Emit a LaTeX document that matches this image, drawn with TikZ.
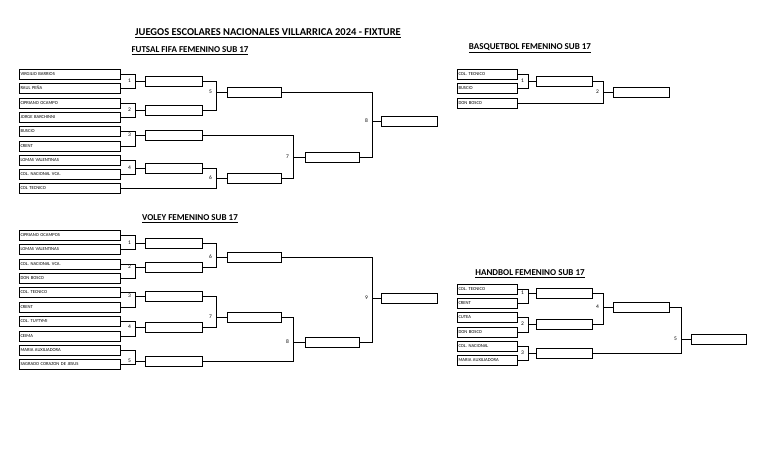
\documentclass[tikz,border=0pt]{standalone}
\usepackage{fontspec}
\setmainfont{Carlito}
\begin{document}
\begin{tikzpicture}[x=1pt,y=-1pt,
 team/.style={draw,line width=0.8pt,minimum height=10pt,text width=#1,align=left,inner xsep=1.5pt,inner ysep=0pt,font=\fontsize{4.6}{5}\selectfont},
 team/.default=98pt,
 rbox/.style={draw,line width=0.8pt,minimum height=10pt,minimum width=#1,inner sep=0pt},
 rbox/.default=57pt,
 num/.style={font=\fontsize{5.5}{6}\selectfont,inner sep=0pt,left=4pt},
 ttl/.style={font=\bfseries\fontsize{9}{10}\selectfont,inner sep=0pt},
 ln/.style={line width=0.8pt}]
\newcommand\jn[5]{\draw[ln] (#1.east) -| (#3 |- #2.east) -- (#2.east);
 \draw[ln] (#3 |- #4.west) -- (#4.west);
 \node[num] at (#3 |- #4.west) {#5};}
\useasboundingbox (0,0) rectangle (768,466);
\node[ttl,font=\bfseries\fontsize{10.5}{12}\selectfont] (t0) at (268,33) {\underline{JUEGOS ESCOLARES NACIONALES VILLARRICA 2024 - FIXTURE}};
% FUTSAL
\node[ttl] (t1) at (190,51) {\underline{FUTSAL FIFA FEMENINO SUB 17}};
\node[team] (fa) at (69.5,74) {VIRGILIO BARRIOS};
\node[team] (fb) at (69.5,88) {RAUL PEÑA};
\node[team] (fc) at (69.5,103) {CIPRIANO OCAMPO};
\node[team] (fd) at (69.5,117) {JORGE BARCHINNI};
\node[team] (fe) at (69.5,131) {BUSCIO};
\node[team] (ff) at (69.5,146) {CRENT};
\node[team] (fg) at (69.5,160) {LOMAS VALENTINAS};
\node[team] (fh) at (69.5,174) {COL. NACIONAL VCA.};
\node[team] (fi) at (69.5,188) {COL TECNICO};
\coordinate (x1) at (135,0); \coordinate (x2) at (216,0);
\coordinate (x3) at (293,0); \coordinate (x4) at (372,0);
\node[rbox] (f1) at (173.5,81) {};
\node[rbox] (f2) at (173.5,110) {};
\node[rbox] (f3) at (173.5,135) {};
\node[rbox] (f4) at (173.5,168) {};
\node[rbox=54pt] (f5) at (254,92) {};
\node[rbox=54pt] (f6) at (254,178) {};
\node[rbox=54pt] (f7) at (332.5,157) {};
\node[rbox=56pt] (f8) at (409,121) {};
\jn{fa}{fb}{x1}{f1}{1}
\jn{fc}{fd}{x1}{f2}{2}
\jn{fe}{ff}{x1}{f3}{3}
\jn{fg}{fh}{x1}{f4}{4}
\jn{f1}{f2}{x2}{f5}{5}
\jn{f4}{fi}{x2}{f6}{6}
\jn{f3}{f6}{x3}{f7}{7}
\jn{f5}{f7}{x4}{f8}{8}
% VOLEY
\node[ttl] (t2) at (190,219) {\underline{VOLEY FEMENINO SUB 17}};
\node[team] (va) at (69.5,235) {CIPRIANO OCAMPOS};
\node[team] (vb) at (69.5,249) {LOMAS VALENTINAS};
\node[team] (vc) at (69.5,264) {COL. NACIONAL VCA.};
\node[team] (vd) at (69.5,278) {DON BOSCO};
\node[team] (ve) at (69.5,292) {COL. TECNICO};
\node[team] (vf) at (69.5,307) {CRENT};
\node[team] (vg) at (69.5,321) {COL. TUYTYMI};
\node[team] (vh) at (69.5,336) {CEIMA};
\node[team] (vi) at (69.5,350) {MARIA AUXILIADORA};
\node[team] (vj) at (69.5,364) {SAGRADO CORAZON DE JESUS};
\node[rbox] (v1) at (173.5,243) {};
\node[rbox] (v2) at (173.5,267) {};
\node[rbox] (v3) at (173.5,296) {};
\node[rbox] (v4) at (173.5,327) {};
\node[rbox] (v5) at (173.5,361) {};
\node[rbox=54pt] (v6) at (254,257) {};
\node[rbox=54pt] (v7) at (254,317) {};
\node[rbox=54pt] (v8) at (332.5,342) {};
\node[rbox=56pt] (v9) at (409,298) {};
\jn{va}{vb}{x1}{v1}{1}
\jn{vc}{vd}{x1}{v2}{2}
\jn{ve}{vf}{x1}{v3}{3}
\jn{vg}{vh}{x1}{v4}{4}
\jn{vi}{vj}{x1}{v5}{5}
\jn{v1}{v2}{x2}{v6}{6}
\jn{v3}{v4}{x2}{v7}{7}
\jn{v7}{v5}{x3}{v8}{8}
\jn{v6}{v8}{x4}{v9}{9}
% BASQUET
\node[ttl] (t3) at (530,48) {\underline{BASQUETBOL FEMENINO SUB 17}};
\node[team=57pt] (ba) at (487,74) {COL. TECNICO};
\node[team=57pt] (bb) at (487,88) {BUSCIO};
\node[team=57pt] (bc) at (487,103) {DON BOSCO};
\coordinate (y1) at (528,0); \coordinate (y2) at (603,0); \coordinate (y3) at (681,0);
\node[rbox=56pt] (b1) at (564,81) {};
\node[rbox=56pt] (b2) at (641,92) {};
\jn{ba}{bb}{y1}{b1}{1}
\jn{b1}{bc}{y2}{b2}{2}
% HANDBOL
\node[ttl] (t4) at (530,274) {\underline{HANDBOL FEMENINO SUB 17}};
\node[team=57pt] (ha) at (487,289) {COL. TECNICO};
\node[team=57pt] (hb) at (487,303) {CRENT};
\node[team=57pt] (hc) at (487,317) {CUTEA};
\node[team=57pt] (hd) at (487,332) {DON BOSCO};
\node[team=57pt] (he) at (487,346) {COL. NACIONAL};
\node[team=57pt] (hf) at (487,360) {MARIA AUXILIADORA};
\node[rbox=56pt] (h1) at (564,293) {};
\node[rbox=56pt] (h2) at (564,324) {};
\node[rbox=56pt] (h3) at (564,353) {};
\node[rbox=56pt] (h4) at (641,307) {};
\node[rbox=55pt] (h5) at (718.5,339) {};
\jn{ha}{hb}{y1}{h1}{1}
\jn{hc}{hd}{y1}{h2}{2}
\jn{he}{hf}{y1}{h3}{3}
\jn{h1}{h2}{y2}{h4}{4}
\jn{h4}{h3}{y3}{h5}{5}
\end{tikzpicture}
\end{document}
